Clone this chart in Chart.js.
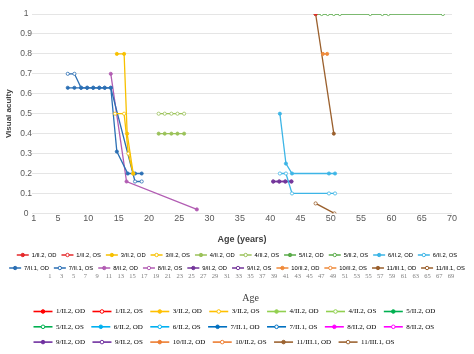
<!DOCTYPE html>
<html>
<head>
<meta charset="utf-8">
<script src="https://cdn.jsdelivr.net/npm/chart.js@4.4.0/dist/chart.umd.min.js"></script>
<style>
  html, body { margin: 0; padding: 0; background: #fff; }
  #wrap { position: relative; width: 474px; height: 354px; overflow: hidden; }
  canvas { position: absolute; left: 0; }
  #mainChart { top: 0; }
  #ageChart { top: 236px; }
</style>
</head>
<body>
<div id="wrap">
  <canvas id="mainChart" width="474" height="284"></canvas>
  <canvas id="ageChart" width="474" height="120"></canvas>
</div>
<script>
// Visual acuity per patient / eye (age in years)
const p1OD_age = [47.5];
const p1OD_va = [1];
const p1OS_age = [];
const p1OS_va = [];
const p3OD_age = [14.7, 15.9, 16.4, 17.4];
const p3OD_va = [0.8, 0.8, 0.4, 0.2];
const p3OS_age = [14.4, 15.9, 16.6, 17.4];
const p3OS_va = [0.5, 0.5, 0.3, 0.2];
const p4OD_age = [21.6, 22.6, 23.7, 24.7, 25.8];
const p4OD_va = [0.4, 0.4, 0.4, 0.4, 0.4];
const p4OS_age = [21.6, 22.6, 23.7, 24.7, 25.8];
const p4OS_va = [0.5, 0.5, 0.5, 0.5, 0.5];
const p5OD_age = [];
const p5OD_va = [];
const p5OS_age = [47.5, 48.5, 49.5, 50.5, 51.5, 56.5, 58.5, 59.5, 68.5];
const p5OS_va = [1, 1, 1, 1, 1, 1, 1, 1, 1];
const p6OD_age = [41.6, 42.6, 43.6, 49.7, 50.7];
const p6OD_va = [0.5, 0.25, 0.2, 0.2, 0.2];
const p6OS_age = [41.6, 42.6, 43.6, 49.7, 50.7];
const p6OS_va = [0.2, 0.2, 0.1, 0.1, 0.1];
const p7OD_age = [6.6, 7.7, 8.8, 9.8, 10.8, 11.8, 12.7, 13.7, 14.7, 16.5, 17.7, 18.8];
const p7OD_va = [0.63, 0.63, 0.63, 0.63, 0.63, 0.63, 0.63, 0.63, 0.31, 0.2, 0.2, 0.2];
const p7OS_age = [6.6, 7.7, 8.8, 9.8, 10.8, 11.8, 12.7, 13.7, 17.7, 18.8];
const p7OS_va = [0.7, 0.7, 0.63, 0.63, 0.63, 0.63, 0.63, 0.63, 0.16, 0.16];
const p8OD_age = [13.7, 16.3, 27.9];
const p8OD_va = [0.7, 0.16, 0.02];
const p8OS_age = [];
const p8OS_va = [];
const p9OD_age = [40.5, 41.5, 42.5, 43.5];
const p9OD_va = [0.16, 0.16, 0.16, 0.16];
const p9OS_age = [40.5, 41.5, 42.5, 43.5];
const p9OS_va = [0.16, 0.16, 0.16, 0.16];
const p10OD_age = [48.7, 49.4];
const p10OD_va = [0.8, 0.8];
const p10OS_age = [];
const p10OS_va = [];
const p11OD_age = [47.5, 50.5];
const p11OD_va = [1, 0.4];
const p11OS_age = [47.5, 50.6];
const p11OS_va = [0.05, 0];

const seriesNames = [
  '1/II.2, OD', '1/II.2, OS', '3/II.2, OD', '3/II.2, OS', '4/II.2, OD', '4/II.2, OS',
  '5/II.2, OD', '5/II.2, OS', '6/II.2, OD', '6/II.2, OS', '7/II.1, OD', '7/II.1, OS',
  '8/II.2, OD', '8/II.2, OS', '9/II.2, OD', '9/II.2, OS', '10/II.2, OD', '10/II.2, OS',
  '11/III.1, OD', '11/III.1, OS'
];
const seriesAges = [p1OD_age, p1OS_age, p3OD_age, p3OS_age, p4OD_age, p4OS_age, p5OD_age, p5OS_age,
  p6OD_age, p6OS_age, p7OD_age, p7OS_age, p8OD_age, p8OS_age, p9OD_age, p9OS_age,
  p10OD_age, p10OS_age, p11OD_age, p11OS_age];
const seriesVA = [p1OD_va, p1OS_va, p3OD_va, p3OS_va, p4OD_va, p4OS_va, p5OD_va, p5OS_va,
  p6OD_va, p6OS_va, p7OD_va, p7OS_va, p8OD_va, p8OS_va, p9OD_va, p9OS_va,
  p10OD_va, p10OS_va, p11OD_va, p11OS_va];

// colours per patient (1,3,4,5,6,7,8,9,10,11)
const mainColors = ['#e5282a', '#f7c000', '#9bc25a', '#5aab4a', '#3db5e6', '#2b6fb4',
  '#b25db3', '#73359a', '#ef8a3a', '#9a5f2c'];
const ageLegendColors = ['#ff0000', '#ffc000', '#92d050', '#00b050', '#00b0f0', '#0070c0',
  '#ff00ff', '#7030a0', '#ed7d31', '#9c6432'];

const xTickValues = [1, 5, 10, 15, 20, 25, 30, 35, 40, 45, 50, 55, 60, 65, 70];
const ageTickLabels = ['1', '3', '5', '7', '9', '11', '13', '15', '17', '19', '21', '23', '25', '27', '29',
  '31', '33', '35', '37', '39', '41', '43', '45', '47', '49', '51', '53', '55', '57', '59', '61',
  '63', '65', '67', '69'];

/**
 * Legend symbol: short line with a round marker (filled OD, hollow OS)
 */
const legendSymbols = {
  id: 'legendSymbols',
  afterDraw(chart, args, opts) {
    const legend = chart.legend;
    if (!legend || !legend.legendHitBoxes) return;
    const ctx = chart.ctx;
    legend.legendItems.forEach((item, i) => {
      const box = legend.legendHitBoxes[i];
      const y = box.top + box.height / 2;
      const x0 = box.left;
      const x1 = box.left + opts.length;
      ctx.save();
      ctx.strokeStyle = item.symbolColor;
      ctx.lineWidth = opts.stroke;
      ctx.beginPath();
      ctx.moveTo(x0, y);
      ctx.lineTo(x1, y);
      ctx.stroke();
      ctx.beginPath();
      ctx.arc((x0 + x1) / 2, y, opts.radius, 0, Math.PI * 2);
      ctx.fillStyle = item.hollow ? '#ffffff' : item.symbolColor;
      ctx.fill();
      ctx.lineWidth = 1;
      ctx.stroke();
      ctx.restore();
    });
  }
};

function legendLabels(colors) {
  return () => seriesNames.map((name, i) => ({
    text: name,
    fillStyle: 'rgba(0,0,0,0)',
    strokeStyle: 'rgba(0,0,0,0)',
    lineWidth: 0,
    datasetIndex: i,
    symbolColor: colors[Math.floor(i / 2)],
    hollow: name.endsWith('OS')
  }));
}

// Main chart
const mainDatasets = seriesNames.map((name, i) => {
  const color = mainColors[Math.floor(i / 2)];
  const hollow = name.endsWith('OS');
  return {
    label: name,
    data: seriesAges[i].map((a, k) => ({ x: a, y: seriesVA[i][k] })),
    borderColor: color,
    backgroundColor: hollow ? '#ffffff' : color,
    borderWidth: 1.3,
    pointRadius: 1.6,
    pointBorderWidth: 0.8,
    pointBackgroundColor: hollow ? '#ffffff' : color,
    pointBorderColor: color,
    tension: 0
  };
});

new Chart(document.getElementById('mainChart'), {
  type: 'line',
  data: { datasets: mainDatasets },
  options: {
    responsive: false,
    animation: false,
    layout: { padding: { top: 14, left: 0, right: 0, bottom: 2 } },
    scales: {
      x: {
        type: 'linear',
        min: 0.7,
        max: 70,
        afterBuildTicks: s => { s.ticks = xTickValues.map(v => ({ value: v })); },
        grid: { display: false, drawTicks: false },
        border: { display: false },
        ticks: { font: { family: 'Liberation Sans', size: 9 }, color: '#595959', padding: 0, maxRotation: 0, autoSkip: false },
        title: {
          display: true, text: 'Age (years)', color: '#404040',
          font: { family: 'Liberation Sans', size: 9, weight: 'bold' },
          padding: { top: 10, bottom: 1 }
        }
      },
      y: {
        min: 0,
        max: 1,
        afterFit: s => { s.width = 32; },
        grid: { color: '#dedede', lineWidth: 0.8, drawTicks: false },
        border: { display: false },
        ticks: {
          stepSize: 0.1, crossAlign: 'center', padding: 0,
          font: { family: 'Liberation Sans', size: 8.5 }, color: '#595959',
          callback: v => String(Math.round(v * 10) / 10)
        },
        title: {
          display: true, text: 'Visual acuity', color: '#404040',
          font: { family: 'Liberation Sans', size: 8, weight: 'bold' }, padding: { top: 4, bottom: 0 }
        }
      },
      // empty right margin so the legend keeps the full width
      yRight: {
        position: 'right',
        afterFit: s => { s.width = 22; },
        ticks: { display: false },
        grid: { display: false },
        border: { display: false }
      }
    },
    plugins: {
      tooltip: { enabled: false },
      legend: {
        position: 'bottom',
        labels: {
          generateLabels: legendLabels(mainColors),
          font: { family: 'Liberation Sans', size: 5.8 },
          color: '#595959',
          boxWidth: 12,
          boxHeight: 8,
          padding: 5
        }
      },
      legendSymbols: { length: 12, stroke: 1.5, radius: 1.7 }
    }
  },
  plugins: [legendSymbols]
});

// Lower "Age" axis with its own legend
new Chart(document.getElementById('ageChart'), {
  type: 'line',
  data: {
    labels: ageTickLabels,
    datasets: seriesNames.map(name => ({ label: name, data: [] }))
  },
  options: {
    responsive: false,
    animation: false,
    layout: { padding: { top: 0, left: 26, right: 17, bottom: 0 } },
    scales: {
      x: {
        type: 'category',
        offset: true,
        grid: { display: false, drawTicks: false },
        border: { display: false },
        ticks: { font: { family: 'Liberation Serif', size: 6.5 }, color: '#7f7f7f', padding: 2, maxRotation: 0, autoSkip: false },
        title: {
          display: true, text: 'Age', color: '#404040',
          font: { family: 'Liberation Serif', size: 10, lineHeight: 1 },
          padding: { top: 11, bottom: -3 }
        }
      },
      y: {
        afterFit: s => { s.width = 18; },
        ticks: { display: false },
        grid: { display: false },
        border: { display: false }
      }
    },
    plugins: {
      tooltip: { enabled: false },
      legend: {
        position: 'bottom',
        align: 'start',
        labels: {
          generateLabels: legendLabels(ageLegendColors),
          font: { family: 'Liberation Serif', size: 7 },
          color: '#595959',
          boxWidth: 19,
          boxHeight: 7.8,
          padding: 7.5
        }
      },
      legendSymbols: { length: 19, stroke: 1.6, radius: 1.8 }
    }
  },
  plugins: [legendSymbols]
});
</script>
</body>
</html>
